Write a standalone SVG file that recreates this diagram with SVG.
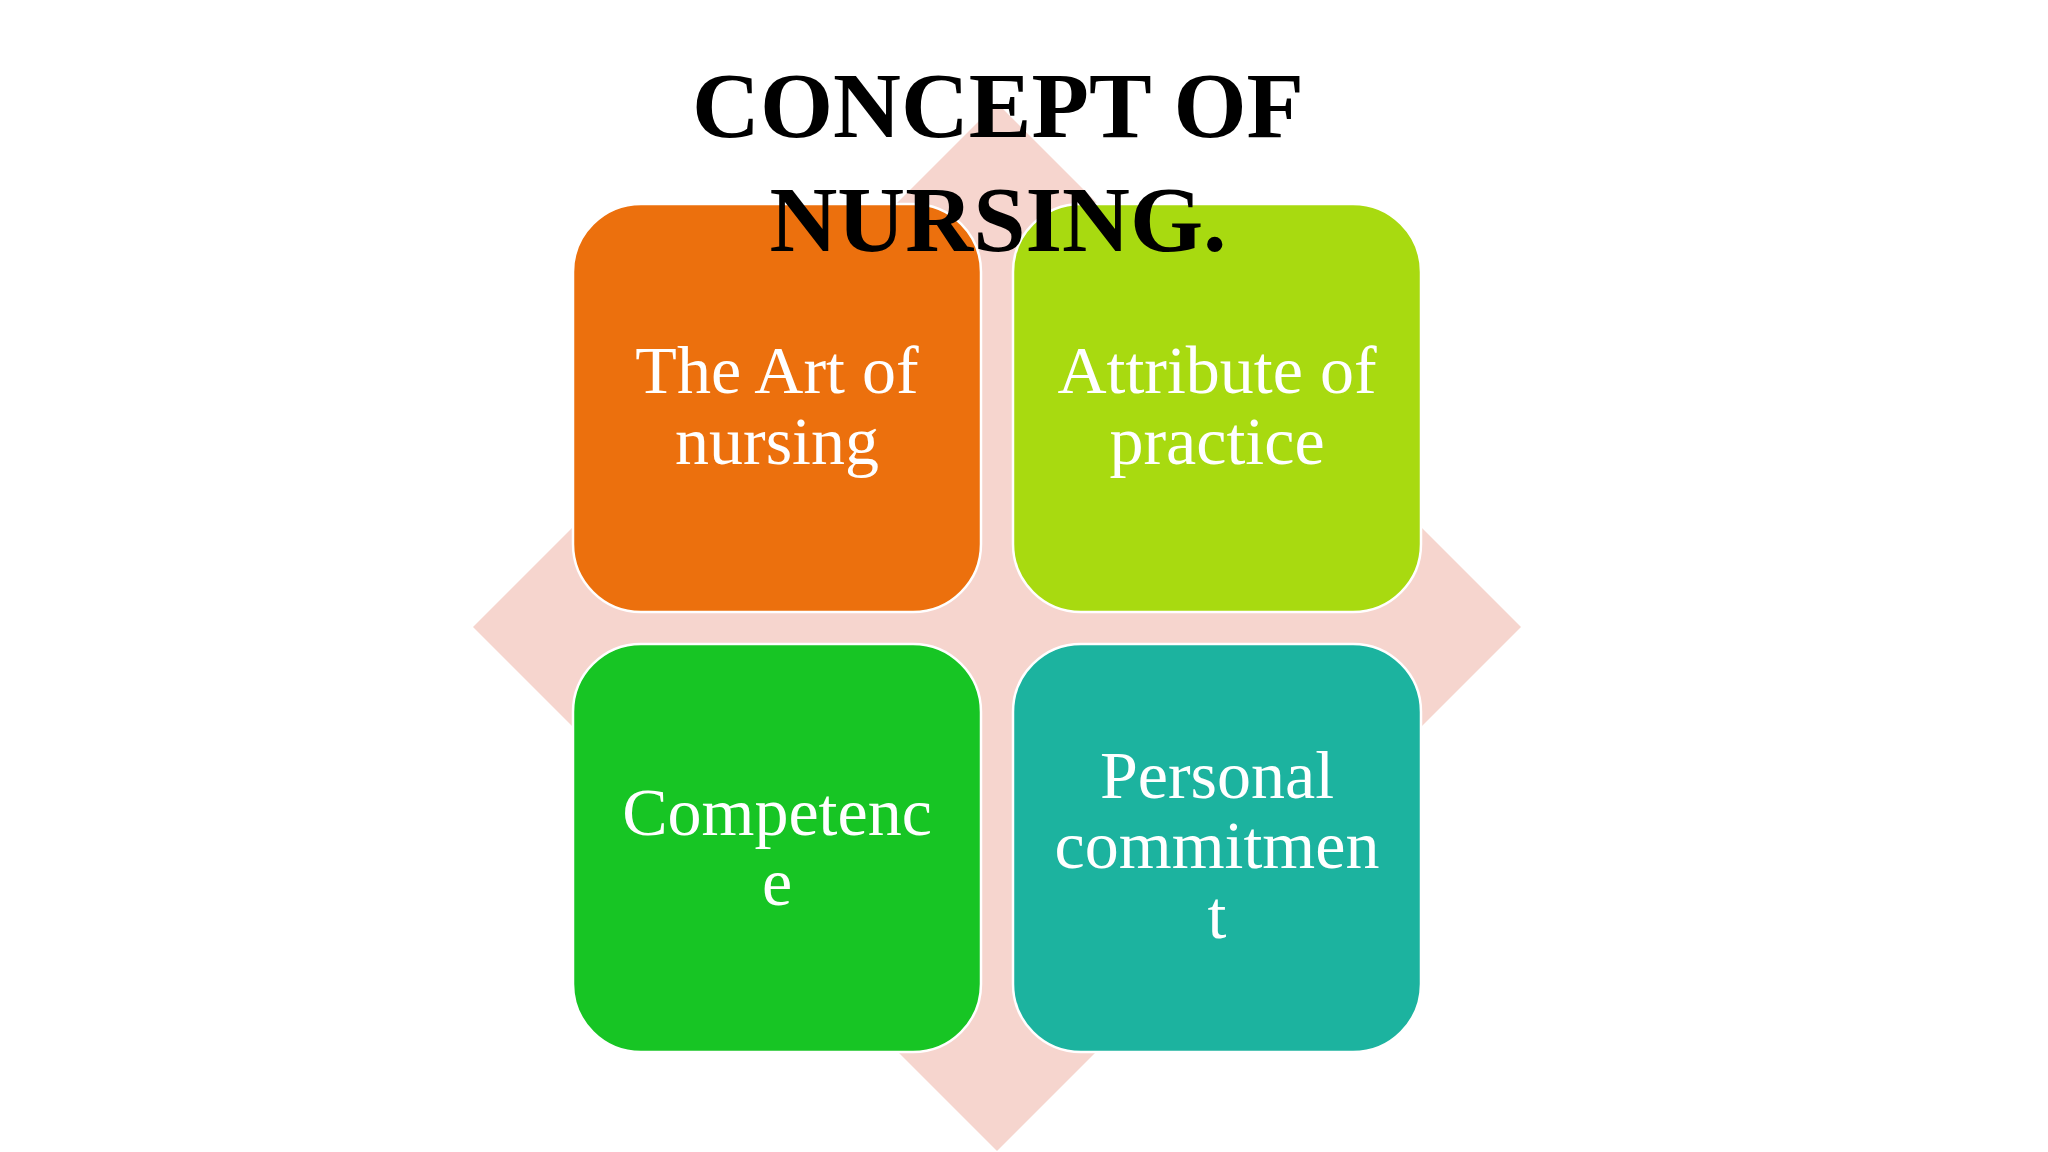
<svg xmlns="http://www.w3.org/2000/svg" width="2048" height="1152" viewBox="0 0 2048 1152">
<style>
.box{stroke:#ffffff;stroke-width:2.5}
.lbl{font-family:"Liberation Serif","Times New Roman",serif;font-size:68px;fill:#ffffff;text-anchor:middle}
.title{font-family:"Liberation Serif","Times New Roman",serif;font-size:94px;font-weight:bold;fill:#000000;text-anchor:middle}
</style>
<rect width="2048" height="1152" fill="#ffffff"/>
<g id="diamond">
<polygon points="997,103 1521,627 997,1151 473,627" fill="#F6D5CE"/>
</g>
<g id="node-art">
<rect class="box" x="573" y="204" width="408" height="408" rx="68" fill="#EC700D"/>
<text class="lbl" x="777" y="393">The Art of</text>
<text class="lbl" x="777" y="464">nursing</text>
</g>
<g id="node-attribute">
<rect class="box" x="1013" y="204" width="408" height="408" rx="68" fill="#A8DA10"/>
<text class="lbl" x="1217" y="393">Attribute of</text>
<text class="lbl" x="1217" y="464">practice</text>
</g>
<g id="node-competence">
<rect class="box" x="573" y="644" width="408" height="408" rx="68" fill="#17C524"/>
<text class="lbl" x="777" y="835">Competenc</text>
<text class="lbl" x="777" y="905">e</text>
</g>
<g id="node-commitment">
<rect class="box" x="1013" y="644" width="408" height="408" rx="68" fill="#1CB39F"/>
<text class="lbl" x="1217" y="798">Personal</text>
<text class="lbl" x="1217" y="868">commitmen</text>
<text class="lbl" x="1217" y="938">t</text>
</g>
<g id="connectors"></g>
<g id="title">
<text class="title" x="998" y="137">CONCEPT OF</text>
<text class="title" x="998" y="251">NURSING.</text>
</g>
</svg>
